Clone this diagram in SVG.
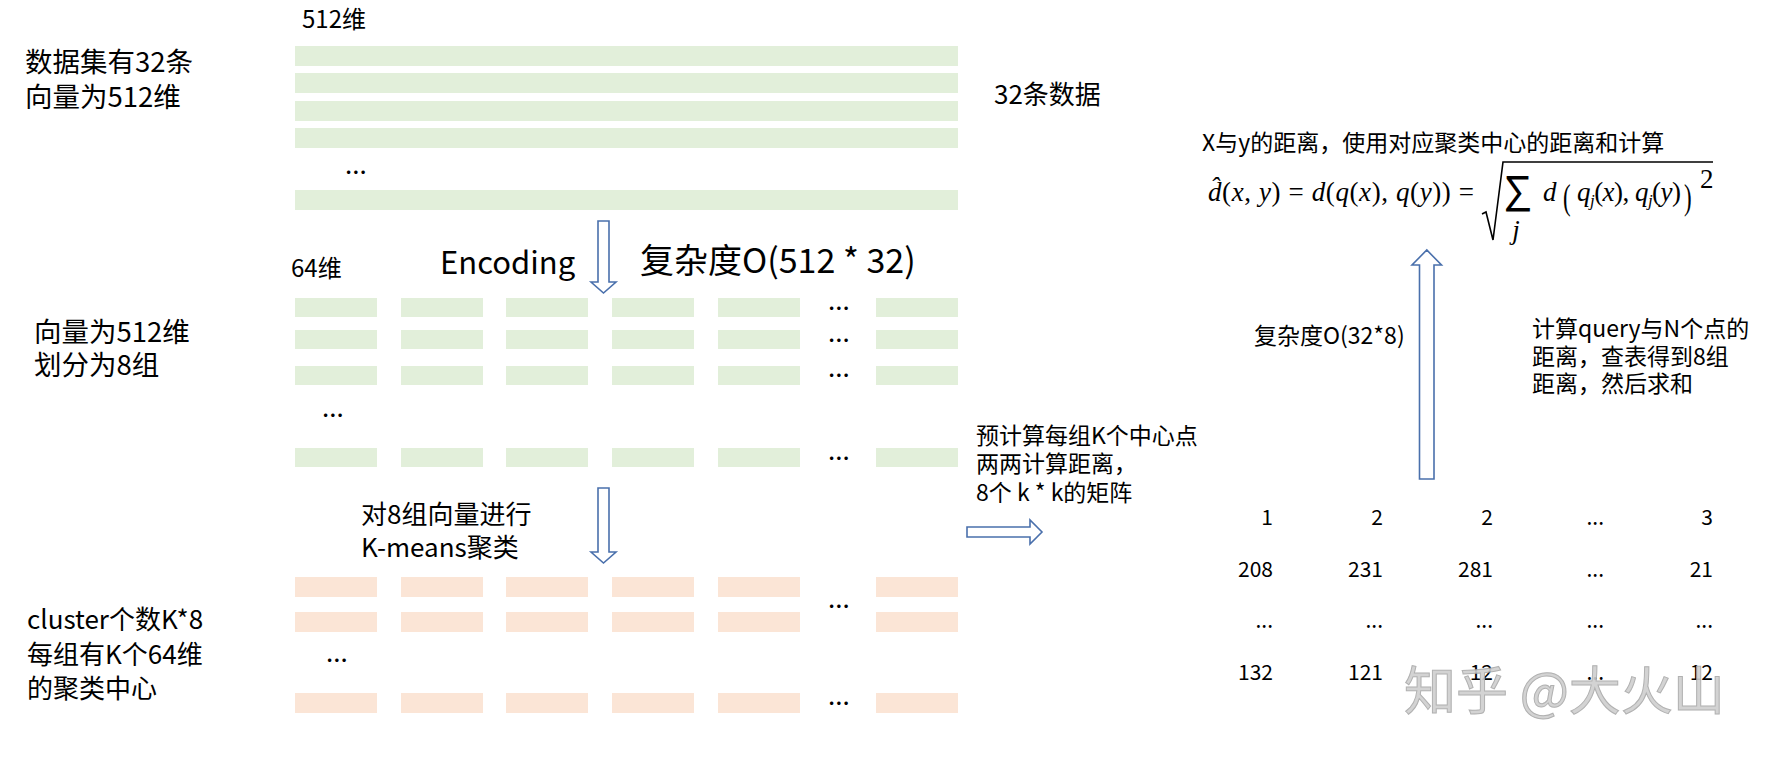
<svg xmlns="http://www.w3.org/2000/svg" width="1775" height="763" viewBox="0 0 1775 763">
<style>
  text { font-family: "Noto Sans CJK SC", "Noto Sans", sans-serif; fill: #000; }
  .lbl { font-size: 26px; }
  .big { font-size: 27.5px; }
  .sm { font-size: 24px; }
  .rt { font-size: 23px; }
  .num { font-size: 21px; text-anchor: end; }
  .dots { font-size: 26px; }
  .g { fill: #E2EFDA; }
  .o { fill: #FBE5D6; }
  .arrow { fill: #fff; stroke: #4a70ac; stroke-width: 1.6; stroke-linejoin: miter; }
  .m { font-family: "Liberation Serif", "DejaVu Serif", serif; font-size: 27px; }
  .i { font-style: italic; }
  .wm { font-size: 52px; fill: #cfcfcf; stroke: #a9a9a9; stroke-width: 1; opacity: 0.9; }
</style>
<rect width="1775" height="763" fill="#fff"/>

<g id="top-data">
  <text class="sm" x="302" y="28">512维</text>
  <rect class="g" x="295" y="46" width="663" height="20"/>
  <rect class="g" x="295" y="73" width="663" height="20"/>
  <rect class="g" x="295" y="101" width="663" height="20"/>
  <rect class="g" x="295" y="128" width="663" height="20"/>
  <text class="dots" x="345" y="174">...</text>
  <rect class="g" x="295" y="190" width="663" height="20"/>
  <text x="994" y="104" font-size="26">32条数据</text>
</g>

<g id="label-dataset">
  <text class="big" x="25" y="72">数据集有32条</text>
  <text class="big" x="25" y="107">向量为512维</text>
</g>

<g id="encoding-labels">
  <text class="sm" x="291" y="277">64维</text>
  <text x="440" y="274" font-size="31">Encoding</text>
  <text x="640" y="273" font-size="34">复杂度O(512 * 32)</text>
</g>

<g id="green-grid">
  <g id="green-row1">
    <rect class="g" x="295" y="298" width="82" height="19"/>
    <rect class="g" x="401" y="298" width="82" height="19"/>
    <rect class="g" x="506" y="298" width="82" height="19"/>
    <rect class="g" x="612" y="298" width="82" height="19"/>
    <rect class="g" x="718" y="298" width="82" height="19"/>
    <text class="dots" x="828" y="310">...</text>
    <rect class="g" x="876" y="298" width="82" height="19"/>
  </g>
  <g id="green-row2">
    <rect class="g" x="295" y="330" width="82" height="19"/>
    <rect class="g" x="401" y="330" width="82" height="19"/>
    <rect class="g" x="506" y="330" width="82" height="19"/>
    <rect class="g" x="612" y="330" width="82" height="19"/>
    <rect class="g" x="718" y="330" width="82" height="19"/>
    <text class="dots" x="828" y="342">...</text>
    <rect class="g" x="876" y="330" width="82" height="19"/>
  </g>
  <g id="green-row3">
    <rect class="g" x="295" y="366" width="82" height="19"/>
    <rect class="g" x="401" y="366" width="82" height="19"/>
    <rect class="g" x="506" y="366" width="82" height="19"/>
    <rect class="g" x="612" y="366" width="82" height="19"/>
    <rect class="g" x="718" y="366" width="82" height="19"/>
    <text class="dots" x="828" y="377">...</text>
    <rect class="g" x="876" y="366" width="82" height="19"/>
  </g>
  <text class="dots" x="322" y="417">...</text>
  <g id="green-row5">
    <rect class="g" x="295" y="448" width="82" height="19"/>
    <rect class="g" x="401" y="448" width="82" height="19"/>
    <rect class="g" x="506" y="448" width="82" height="19"/>
    <rect class="g" x="612" y="448" width="82" height="19"/>
    <rect class="g" x="718" y="448" width="82" height="19"/>
    <text class="dots" x="828" y="460">...</text>
    <rect class="g" x="876" y="448" width="82" height="19"/>
  </g>
</g>

<g id="label-split">
  <text class="big" x="34" y="342">向量为512维</text>
  <text class="big" x="34" y="375">划分为8组</text>
</g>

<g id="label-kmeans">
  <text class="lbl" x="361" y="524">对8组向量进行</text>
  <text class="lbl" x="361" y="557">K-means聚类</text>
</g>

<g id="orange-grid">
  <g id="orange-row1">
    <rect class="o" x="295" y="577" width="82" height="20"/>
    <rect class="o" x="401" y="577" width="82" height="20"/>
    <rect class="o" x="506" y="577" width="82" height="20"/>
    <rect class="o" x="612" y="577" width="82" height="20"/>
    <rect class="o" x="718" y="577" width="82" height="20"/>
    <rect class="o" x="876" y="577" width="82" height="20"/>
  </g>
  <text class="dots" x="828" y="608">...</text>
  <g id="orange-row2">
    <rect class="o" x="295" y="612" width="82" height="20"/>
    <rect class="o" x="401" y="612" width="82" height="20"/>
    <rect class="o" x="506" y="612" width="82" height="20"/>
    <rect class="o" x="612" y="612" width="82" height="20"/>
    <rect class="o" x="718" y="612" width="82" height="20"/>
    <rect class="o" x="876" y="612" width="82" height="20"/>
  </g>
  <text class="dots" x="326" y="662">...</text>
  <g id="orange-row4">
    <rect class="o" x="295" y="693" width="82" height="20"/>
    <rect class="o" x="401" y="693" width="82" height="20"/>
    <rect class="o" x="506" y="693" width="82" height="20"/>
    <rect class="o" x="612" y="693" width="82" height="20"/>
    <rect class="o" x="718" y="693" width="82" height="20"/>
    <text class="dots" x="828" y="705">...</text>
    <rect class="o" x="876" y="693" width="82" height="20"/>
  </g>
</g>

<g id="label-cluster">
  <text class="lbl" x="27" y="629">cluster个数K*8</text>
  <text class="lbl" x="27" y="664">每组有K个64维</text>
  <text class="lbl" x="27" y="698">的聚类中心</text>
</g>

<g id="label-precompute">
  <text class="rt" x="976" y="444">预计算每组K个中心点</text>
  <text class="rt" x="976" y="472">两两计算距离，</text>
  <text class="rt" x="976" y="501">8个 k * k的矩阵</text>
</g>

<g id="formula">
  <text class="rt" x="1202" y="151" font-size="24">X与y的距离，使用对应聚类中心的距离和计算</text>
  <text class="m" x="1208" y="201" textLength="266"><tspan class="i">d̂</tspan>(<tspan class="i">x</tspan>, <tspan class="i">y</tspan>) = <tspan class="i">d</tspan>(<tspan class="i">q</tspan>(<tspan class="i">x</tspan>), <tspan class="i">q</tspan>(<tspan class="i">y</tspan>)) =</text>
  <polyline points="1482,214 1486,212 1493,240 1503,162 1713,162" fill="none" stroke="#000" stroke-width="1.6"/>
  <text transform="translate(1518,211) scale(1.05,1.25)" font-family="DejaVu Serif, serif" font-size="38" text-anchor="middle">∑</text>
  <text class="m i" x="1516" y="239" font-size="18" text-anchor="middle">j</text>
  <text class="m i" x="1543" y="201">d</text>
  <text class="m" transform="translate(1563,209) scale(0.85,1.35)" font-size="30">(</text>
  <text class="m" x="1577" y="201" textLength="104"><tspan class="i">q</tspan><tspan class="i" font-size="17" dy="5">j</tspan><tspan dy="-5">(</tspan><tspan class="i">x</tspan>), <tspan class="i">q</tspan><tspan class="i" font-size="17" dy="5">j</tspan><tspan dy="-5">(</tspan><tspan class="i">y</tspan>)</text>
  <text class="m" transform="translate(1684,209) scale(0.85,1.35)" font-size="30">)</text>
  <text class="m" x="1700" y="188" font-size="17">2</text>
</g>

<g id="label-complexity2">
  <text class="rt" x="1254" y="344">复杂度O(32*8)</text>
</g>

<g id="label-query">
  <text class="rt" x="1532" y="337">计算query与N个点的</text>
  <text class="rt" x="1532" y="365">距离，查表得到8组</text>
  <text class="rt" x="1532" y="392">距离，然后求和</text>
</g>

<g id="table">
  <text class="num" x="1273" y="525">1</text>
  <text class="num" x="1383" y="525">2</text>
  <text class="num" x="1493" y="525">2</text>
  <text class="num" x="1604" y="525">...</text>
  <text class="num" x="1713" y="525">3</text>
  <text class="num" x="1273" y="577">208</text>
  <text class="num" x="1383" y="577">231</text>
  <text class="num" x="1493" y="577">281</text>
  <text class="num" x="1604" y="577">...</text>
  <text class="num" x="1713" y="577">21</text>
  <text class="num" x="1273" y="628">...</text>
  <text class="num" x="1383" y="628">...</text>
  <text class="num" x="1493" y="628">...</text>
  <text class="num" x="1604" y="628">...</text>
  <text class="num" x="1713" y="628">...</text>
  <text class="num" x="1273" y="680">132</text>
  <text class="num" x="1383" y="680">121</text>
  <text class="num" x="1493" y="680">12</text>
  <text class="num" x="1604" y="680">...</text>
  <text class="num" x="1713" y="680">12</text>
</g>

<g id="connectors">
  <path class="arrow" d="M598,221 H609 V282 H616 L603.5,293 L591,282 H598 Z"/>
  <path class="arrow" d="M598,488 H609 V552 H616 L603.5,563 L591,552 H598 Z"/>
  <path class="arrow" d="M967,527 H1030 V520 L1042,532 L1030,544 V537 H967 Z"/>
  <path class="arrow" d="M1419.5,479 V265 H1412 L1426.8,250 L1441.5,265 H1434 V479 Z"/>
</g>

<g id="watermark">
  <text class="wm" x="1404" y="710">知乎 @大火山</text>
</g>
</svg>
